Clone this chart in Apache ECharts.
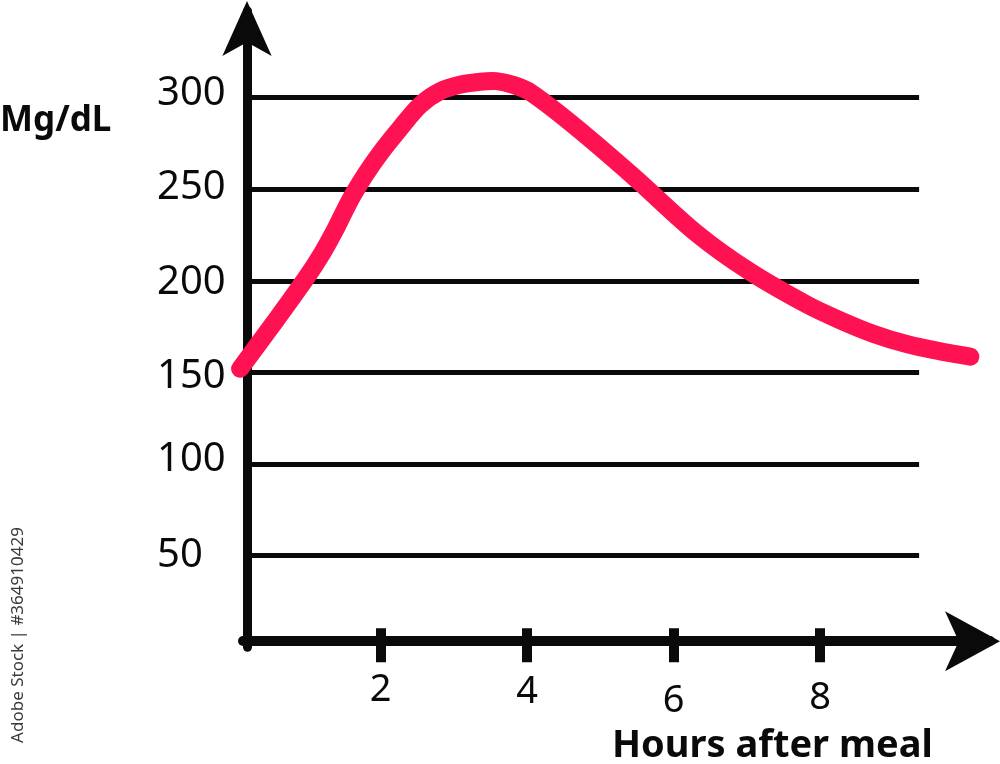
<!DOCTYPE html>
<html><head><meta charset="utf-8">
<script src="https://cdn.jsdelivr.net/npm/echarts@6/dist/echarts.min.js"></script>
<style>html,body{margin:0;padding:0;background:#fff}#c{width:1000px;height:764px}</style>
</head><body><div id="c"></div>
<script>
// ---- data ----
const hours   = [0.08, 0.56, 0.99, 1.20, 1.38, 1.51, 1.63, 1.79, 2.00, 2.26, 2.54, 2.81, 3.08, 3.36, 3.58, 3.81, 4.04, 4.63, 5.45, 6.31, 7.04, 7.82, 8.27, 8.73, 9.18, 9.64, 10.05];
const glucose = [152, 178, 202, 215, 228, 238.5, 247.5, 258, 270, 283, 296, 303.5, 307, 308.7, 309, 307, 303, 285, 257, 226, 205, 187, 178.5, 171, 165.5, 161.5, 158.6];
const yTicks  = [50, 100, 150, 200, 250, 300];
const xTicks  = [2, 4, 6, 8];
const yTitle  = 'Mg/dL';
const xTitle  = 'Hours after meal';
const credit  = 'Adobe Stock | #364910429';
const gridEndHour = 9.35;

// ---- layout / style ----
const X_MIN = 0.12, X_MAX = 10.318, Y_MIN = 0, Y_MAX = 347.3;
const ink = '#0a0a0a';
const curveColor = '#fe1252';
const numFont = "'Noto Sans', sans-serif";
const yNudge = {300: -4, 250: -2, 200: 2, 150: 4, 100: -4, 50: 0};
const xNudge = {2: 0, 4: 2, 6: 11, 8: 8};

const yRich = {}, xRich = {};
yTicks.forEach(v => {
  const d = yNudge[v] || 0;
  yRich['y' + v] = {fontSize: 40, fontFamily: numFont, color: ink,
    padding: d < 0 ? [0, 0, -2 * d, 0] : [2 * d, 0, 0, 0]};
});
xTicks.forEach(v => {
  const d = xNudge[v] || 0;
  xRich['x' + v] = {fontSize: 38, fontFamily: numFont, color: ink, padding: [d, 0, 0, 0]};
});

// smooth stroke through the read points (chord-scaled Catmull-Rom, pixel space from the axes' scales)
function renderCurve(params, api) {
  if (params.dataIndex !== 0) return null;
  const p = hours.map((h, i) => api.coord([h, glucose[i]]));
  const dist = (a, b) => Math.hypot(b[0] - a[0], b[1] - a[1]);
  const tangent = i => {
    const a = p[Math.max(i - 1, 0)], b = p[Math.min(i + 1, p.length - 1)];
    const len = dist(a, b) || 1;
    return [(b[0] - a[0]) / len, (b[1] - a[1]) / len];
  };
  let d = 'M' + p[0][0] + ',' + p[0][1];
  for (let i = 0; i < p.length - 1; i++) {
    const p1 = p[i], p2 = p[i + 1], L = dist(p1, p2) / 3;
    const t1 = tangent(i), t2 = tangent(i + 1);
    d += ' C' + (p1[0] + t1[0] * L) + ',' + (p1[1] + t1[1] * L) + ' ' +
         (p2[0] - t2[0] * L) + ',' + (p2[1] - t2[1] * L) + ' ' + p2[0] + ',' + p2[1];
  }
  return {type: 'path', shape: {pathData: d}, silent: true,
    style: {fill: 'none', stroke: curveColor, lineWidth: 18, lineCap: 'round', lineJoin: 'round'}};
}

const chart = echarts.init(document.getElementById('c'), null, {renderer: 'canvas'});
chart.setOption({
  animation: false,
  backgroundColor: '#ffffff',
  grid: {left: 243, right: 10, top: 11, bottom: 116.8, containLabel: false},
  xAxis: [{
    type: 'value', min: X_MIN, max: X_MAX, position: 'bottom', offset: -6,
    axisLine: {show: true, onZero: false, symbol: ['none', 'arrow'], symbolSize: [45, 55], symbolOffset: [0, 10],
      lineStyle: {color: ink, width: 10}},
    axisTick: {show: true, customValues: xTicks, length: 21, lineStyle: {color: ink, width: 10}},
    axisLabel: {show: true, customValues: xTicks, margin: 30, color: ink, fontSize: 38, fontFamily: numFont,
      formatter: v => '{x' + v + '|' + v + '}', rich: xRich},
    splitLine: {show: false}
  }, {
    type: 'value', min: X_MIN, max: X_MAX, position: 'bottom', offset: -6,
    axisLine: {show: false},
    axisTick: {show: true, inside: true, customValues: xTicks, length: 13, lineStyle: {color: ink, width: 10}},
    axisLabel: {show: false},
    splitLine: {show: false}
  }],
  yAxis: {
    type: 'value', min: Y_MIN, max: Y_MAX, offset: -4,
    axisLine: {show: true, onZero: false, symbol: ['none', 'arrow'], symbolSize: [37, 55], symbolOffset: [0, 10],
      lineStyle: {color: ink, width: 9}},
    axisTick: {show: false},
    axisLabel: {show: true, customValues: yTicks, margin: 90, align: 'left', color: ink,
      fontSize: 40, fontFamily: numFont, formatter: v => '{y' + v + '|' + v + '}', rich: yRich},
    splitLine: {show: false}
  },
  series: [{
    type: 'line', data: [], silent: true, z: 1,
    markLine: {
      silent: true, symbol: ['none', 'none'], label: {show: false}, animation: false,
      lineStyle: {color: ink, width: 5, type: 'solid'},
      emphasis: {disabled: true},
      data: yTicks.map(v => [{coord: [X_MIN, v]}, {coord: [gridEndHour, v]}])
    }
  }, {
    type: 'custom', name: 'Blood glucose', z: 5, clip: false, silent: true,
    coordinateSystem: 'cartesian2d', xAxisIndex: 0, yAxisIndex: 0,
    data: hours.map((h, i) => [h, glucose[i]]),
    renderItem: renderCurve
  }],
  graphic: [
    {type: 'text', left: 0, top: 104, style: {text: yTitle, font: "bold 35px 'Noto Sans', sans-serif", fill: ink}},
    {type: 'text', left: 612, top: 727, style: {text: xTitle, font: "bold 38px 'Noto Sans', sans-serif", fill: ink}},
    {type: 'text', x: 18, y: 635, rotation: Math.PI / 2,
      style: {text: credit, font: "17px 'Noto Sans', sans-serif", fill: '#3a3a3a', align: 'center', verticalAlign: 'middle'}}
  ]
});
</script></body></html>
